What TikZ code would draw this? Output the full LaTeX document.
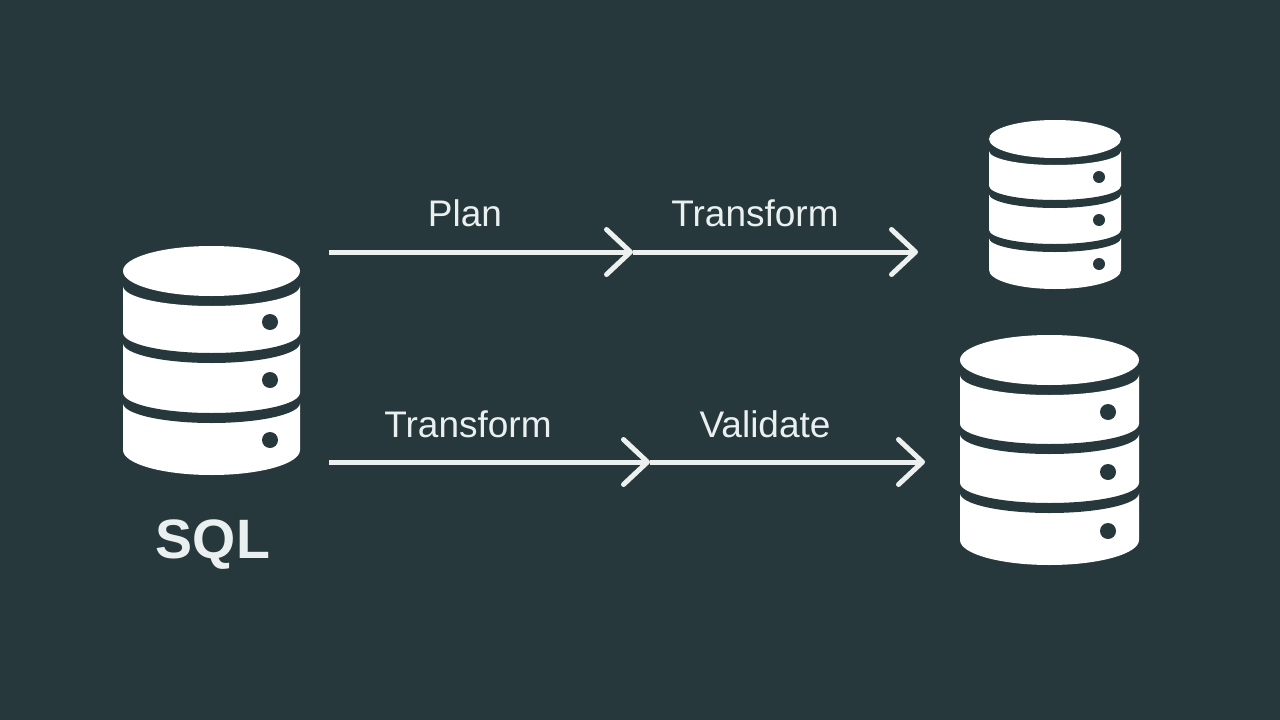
\documentclass[tikz,border=0pt]{standalone}
\usepackage{fontspec}
\setmainfont{Liberation Sans}
\usetikzlibrary{arrows.meta}
\definecolor{bgc}{HTML}{27383C}
\definecolor{fgc}{HTML}{FFFFFF}
\definecolor{txtc}{HTML}{EAF0F0}
\definecolor{linec}{HTML}{ECF1F0}
\tikzset{
  flow/.style={draw=linec,line width=5pt,-{Straight Barb[length=24pt,width=45pt,round]}},
  lbl/.style={text=txtc,font=\fontsize{37}{40}\selectfont,anchor=base,inner sep=0pt},
  sqllbl/.style={text=txtc,font=\fontsize{55.5}{60}\selectfont\bfseries,anchor=base,inner sep=0pt},
}
% cx/rx/ry/top centre/band 1/band 2/band 3/bottom arc/sag of the bands; #2 = half band height
\newcommand{\dbicon}[2]{%
  \foreach \cx/\rx/\ry/\yt/\ba/\bb/\bc/\yb/\sag in {#1}{%
    \fill[fgc] (\cx-\rx,\ba+#2) -- (\cx-\rx,\yb) arc[start angle=180,end angle=0,x radius=\rx,y radius=\ry]
       -- (\cx+\rx,\ba+#2) arc[start angle=0,end angle=180,x radius=\rx,y radius=\sag] -- cycle;
    \foreach \b in {\bb,\bc}{%
      \fill[bgc] (\cx-\rx-3,\b-#2) -- (\cx-\rx,\b-#2) arc[start angle=180,end angle=0,x radius=\rx,y radius=\sag]
        -- (\cx+\rx+3,\b-#2) -- (\cx+\rx+3,\b+#2) -- (\cx+\rx,\b+#2)
        arc[start angle=0,end angle=180,x radius=\rx,y radius=\sag] -- (\cx-\rx-3,\b+#2) -- cycle;
    }%
    \fill[fgc] (\cx,\yt) ellipse[x radius=\rx,y radius=\ry];
  }%
}
\begin{document}
\begin{tikzpicture}[x=1pt,y=-1pt]
\useasboundingbox (0,0) rectangle (1280,720);
\fill[bgc] (0,0) rectangle (1280,720);
% left database
\dbicon{211.5/88.5/25/271/281/338/398/450/20}{5}
\foreach \y in {322,380,440} \fill[bgc] (270,\y) circle[radius=8];
% top right database
\dbicon{1055/66/19/139/147/190/234/270/14}{4}
\foreach \y in {177,220,264} \fill[bgc] (1099,\y) circle[radius=6];
% bottom right database
\dbicon{1049.5/89.5/25/360/370/429/488/540/20}{5}
\foreach \y in {412,472,531} \fill[bgc] (1108,\y) circle[radius=8];
\coordinate (a0) at (329,252);
\coordinate (a1) at (633,252);
\coordinate (a2) at (918,252);
\coordinate (b0) at (329,462);
\coordinate (b1) at (650,462);
\coordinate (b2) at (925,462);
\draw[flow] (a0) -- (a1);
\draw[flow] (a1) -- (a2);
\draw[flow] (b0) -- (b1);
\draw[flow] (b1) -- (b2);
\node[lbl] (plan) at (465,226) {Plan};
\node[lbl] (t1) at (755,226) {Transform};
\node[lbl] (t2) at (468,437) {Transform};
\node[lbl] (val) at (765,437) {Validate};
\node[sqllbl] (sql) at (213,558) {SQL};
\end{tikzpicture}
\end{document}
